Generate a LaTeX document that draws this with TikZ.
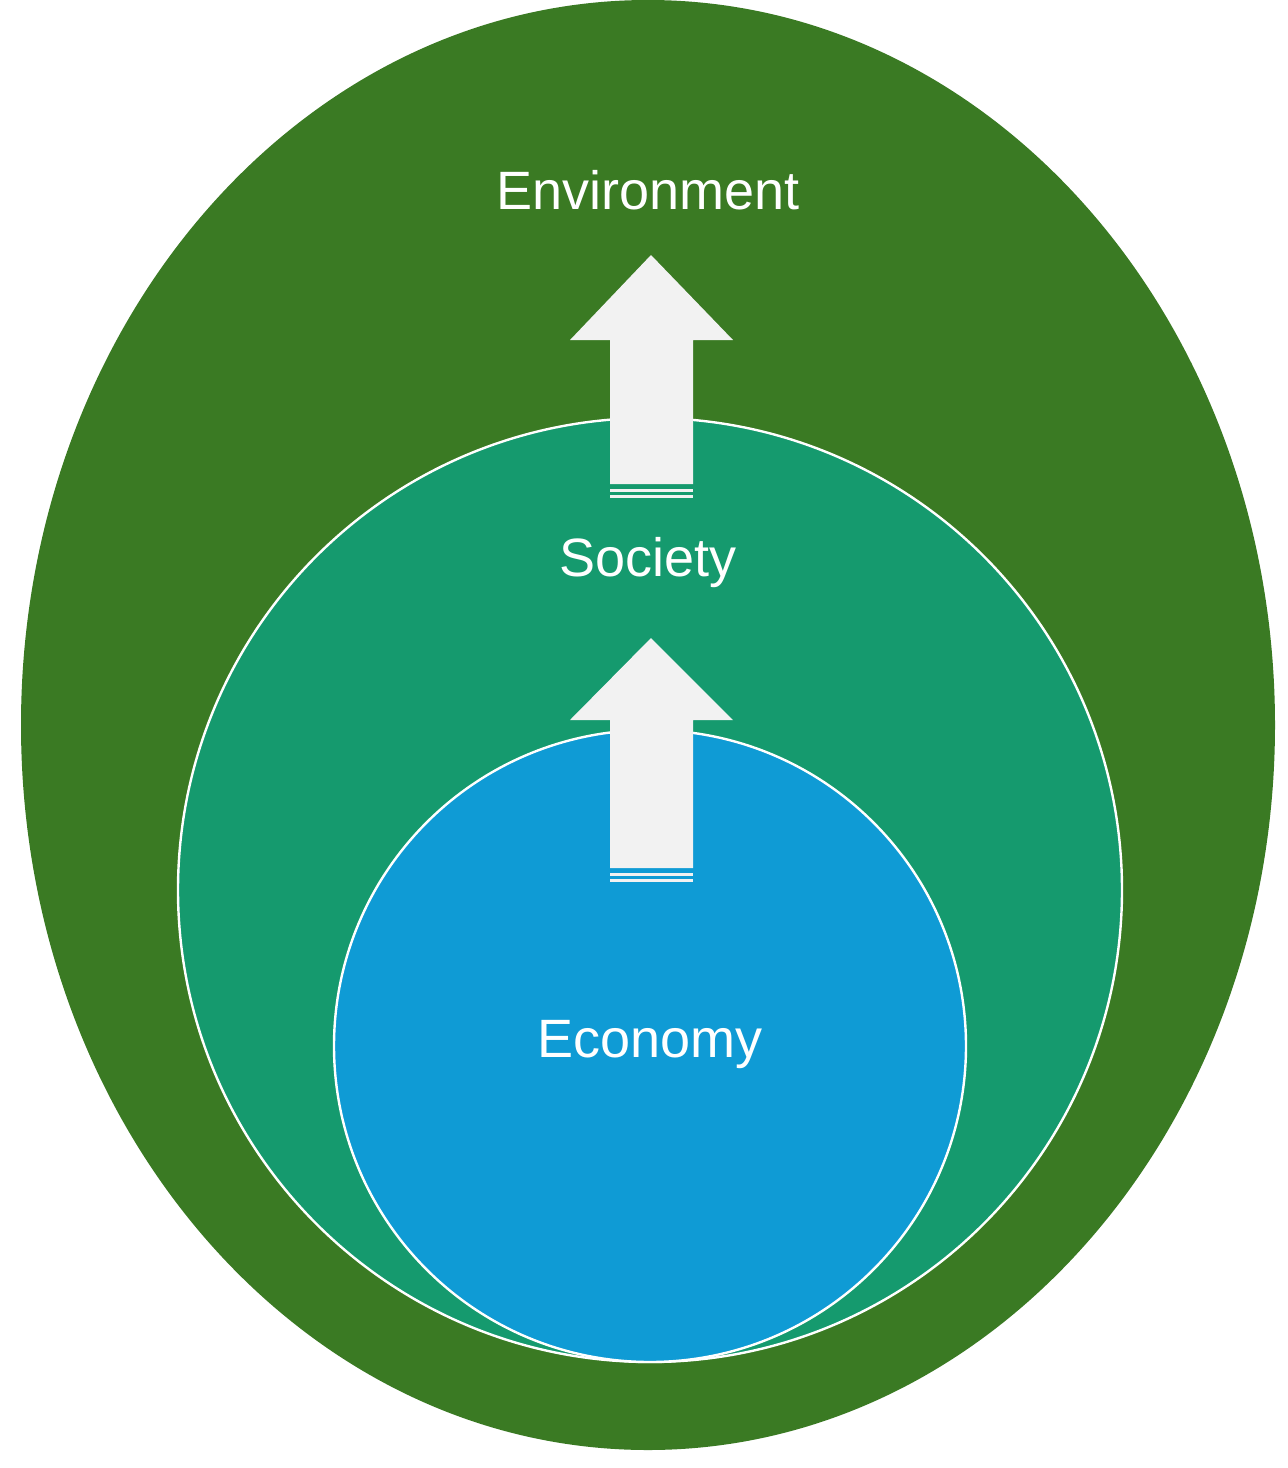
\documentclass[tikz,border=0pt]{standalone}
\usepackage{fontspec}
\setmainfont{Liberation Sans}
\definecolor{envg}{HTML}{3A7A23}
\definecolor{socg}{HTML}{159A6E}
\definecolor{ecob}{HTML}{0F9BD5}
\definecolor{arr}{HTML}{F2F2F2}
\begin{document}
\begin{tikzpicture}[x=0.5pt,y=-0.5pt]
\tikzset{lbl/.style={text=white,font=\fontsize{27}{30}\selectfont},
 upar/.style={fill=arr,draw=none},
 stripe/.style={draw=arr,line width=1.5pt}}
\useasboundingbox (0,0) rectangle (1288,1468);
\fill[envg] (648,725) ellipse[x radius=313.5pt,y radius=362.5pt];
\draw[fill=socg,draw=white,line width=1.2pt] (650,890) circle[radius=236pt];
\draw[fill=ecob,draw=white,line width=1.2pt] (650,1046) circle[radius=158pt];
% top arrow
\fill[upar] (651,255) -- (733,340) -- (693,340) -- (693,484) -- (610,484) -- (610,340) -- (570,340) -- cycle;
\draw[stripe] (610,490) -- (693,490);
\draw[stripe] (610,496) -- (693,496);
% lower arrow
\fill[upar] (651,638) -- (733,720) -- (693,720) -- (693,868) -- (610,868) -- (610,720) -- (570,720) -- cycle;
\draw[stripe] (610,874) -- (693,874);
\draw[stripe] (610,880) -- (693,880);
\node[lbl] (env) at (648,190) {Environment};
\node[lbl] (soc) at (648,563) {Society};
\node[lbl] (eco) at (650,1045) {Economy};
\end{tikzpicture}
\end{document}
